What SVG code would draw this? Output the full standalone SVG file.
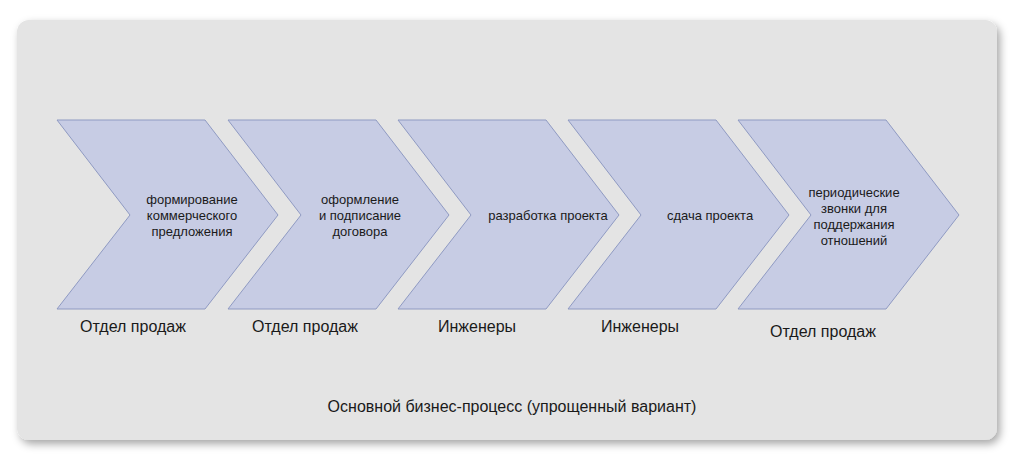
<svg xmlns="http://www.w3.org/2000/svg" width="1024" height="469" viewBox="0 0 1024 469">
<defs>
<filter id="sh" x="-5%" y="-5%" width="110%" height="115%"><feDropShadow dx="3" dy="4" stdDeviation="4" flood-color="#000" flood-opacity="0.35"/></filter>
<path id="chev" d="M0,0 L148,0 L221,95 L148,189 L0,189 L73,95 Z"/>
</defs>
<style>
.c{fill:#c7cce4;stroke:#8f9ac2;stroke-width:1}
.t{font-family:"Liberation Sans",Arial,sans-serif;font-size:13px;fill:#1a1a1a;text-anchor:middle}
.l{font-family:"Liberation Sans",Arial,sans-serif;font-size:16px;fill:#1a1a1a;text-anchor:middle}
</style>
<rect width="1024" height="469" fill="#fff"/>
<rect x="17" y="20" width="980" height="420" rx="12" fill="#e4e4e4" filter="url(#sh)"/>
<g id="connectors"/>
<g id="n1"><use href="#chev" x="57" y="120" class="c"/><text class="t" x="192" y="204">формирование<tspan x="192" dy="16">коммерческого</tspan><tspan x="192" dy="16">предложения</tspan></text><text class="l" x="133" y="332">Отдел продаж</text></g>
<g id="n2"><use href="#chev" x="228" y="120" class="c"/><text class="t" x="360" y="204">оформление<tspan x="360" dy="16">и подписание</tspan><tspan x="360" dy="16">договора</tspan></text><text class="l" x="305" y="332">Отдел продаж</text></g>
<g id="n3"><use href="#chev" x="398" y="120" class="c"/><text class="t" x="548" y="220">разработка проекта</text><text class="l" x="477" y="332">Инженеры</text></g>
<g id="n4"><use href="#chev" x="568" y="120" class="c"/><text class="t" x="710" y="220">сдача проекта</text><text class="l" x="640" y="332">Инженеры</text></g>
<g id="n5"><use href="#chev" x="738" y="120" class="c"/><text class="t" x="854" y="197">периодические<tspan x="854" dy="16">звонки для</tspan><tspan x="854" dy="16">поддержания</tspan><tspan x="854" dy="16">отношений</tspan></text><text class="l" x="823" y="337">Отдел продаж</text></g>
<text class="l" x="512" y="412" font-size="15">Основной бизнес-процесс (упрощенный вариант)</text>
</svg>
